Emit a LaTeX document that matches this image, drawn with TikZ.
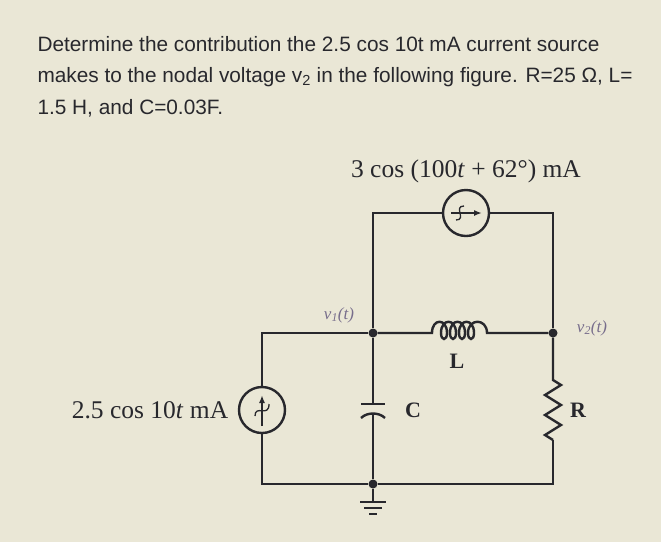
\documentclass[tikz,border=0pt]{standalone}
\usepackage{fontspec}
\newfontfamily\sans{Liberation Sans}
\setmainfont{Liberation Serif}
\usetikzlibrary{arrows.meta}
\definecolor{bg}{RGB}{234,231,214}
\definecolor{ink}{RGB}{40,40,45}
\definecolor{lab}{RGB}{120,110,140}
\begin{document}
\begin{tikzpicture}[x=1pt,y=-1pt,
  wire/.style={draw=ink,line width=2.4pt},
  src/.style={circle,draw=ink,line width=2.4pt,minimum size=46pt,inner sep=0pt,fill=bg},
  dotn/.style={circle,fill=ink,inner sep=0pt,minimum size=9pt},
  cl/.style={font=\fontsize{25.5}{25.5}\selectfont,text=ink},
  vl/.style={font=\fontsize{17}{17}\selectfont\itshape,text=lab},
  el/.style={font=\bfseries\fontsize{22}{22}\selectfont,text=ink}]
\fill[bg] (0,0) rectangle (661,542);
\useasboundingbox (0,0) rectangle (661,542);
\node[anchor=west,font=\sans\fontsize{20.8}{20.8}\selectfont,text=ink] (t1) at (34,44) {Determine the contribution the 2.5 cos 10t mA current source};
\node[anchor=west,font=\sans\fontsize{20.8}{20.8}\selectfont,text=ink] (t2) at (34,77) {makes to the nodal voltage v\textsubscript{2} in the following figure. R=25 Ω, L=};
\node[anchor=west,font=\sans\fontsize{20.8}{20.8}\selectfont,text=ink] (t3) at (34,108) {1.5 H, and C=0.03F.};
% coordinates
\coordinate (tl) at (373,213);
\coordinate (tr) at (553,213);
\node[dotn] (n1) at (373,333) {};
\node[dotn] (n2) at (553,333) {};
\coordinate (ml) at (262,333);
\coordinate (bl) at (262,484);
\node[dotn] (g) at (373,484) {};
\coordinate (br) at (553,484);
\node[src] (s2) at (466,213) {};
\node[src] (s1) at (262,410) {};
% wires
\draw[wire] (s2.west) -- (tl) -- (n1);
\draw[wire] (s2.east) -- (tr) -- (n2);
\draw[wire] (s1.north) -- (ml) -- (n1);
\draw[wire] (s1.south) -- (bl) -- (g) -- (br) -- (553,440);
% inductor
\draw[wire] (n1) -- (432,333)
  .. controls (432,318) and (447,318) .. (447,333) .. controls (447,341) and (441,341) .. (441,333)
  .. controls (441,318) and (456,318) .. (456,333) .. controls (456,341) and (450,341) .. (450,333)
  .. controls (450,318) and (465,318) .. (465,333) .. controls (465,341) and (459,341) .. (459,333)
  .. controls (459,318) and (474,318) .. (474,333) .. controls (474,341) and (468,341) .. (468,333)
  .. controls (468,318) and (487,318) .. (487,333) -- (n2);
% resistor
\draw[wire] (n2) -- (553,380) -- (561,385) -- (545,395) -- (561,405) -- (545,415) -- (561,425) -- (545,435) -- (553,440);
% capacitor
\draw[wire] (n1) -- (373,404);
\draw[wire] (361,404) -- (385,404);
\draw[wire] (361,418) .. controls (367,412) and (379,412) .. (385,418);
\draw[wire] (373,413) -- (g);
% ground
\draw[wire] (g) -- (373,502);
\draw[wire] (360,502) -- (386,502);
\draw[wire] (364,508) -- (382,508);
\draw[wire] (369,514) -- (377,514);
% source symbols
\draw[ink,line width=1.6pt,-{Latex[length=8pt]}] (262,426) -- (262,395);
\draw[ink,line width=1.3pt] (255,416) .. controls (255,404) and (269,418) .. (269,404);
\draw[ink,line width=1.6pt,-{Latex[length=8pt]}] (451,213) -- (482,213);
\draw[ink,line width=1.3pt] (464,206) .. controls (453,206) and (467,220) .. (456,220);
% labels
\node[cl] (lsrc2) at (466,171) {3 cos (100\textit{t} + 62°) mA};
\node[cl] (lsrc1) at (150,410) {2.5 cos 10\textit{t} mA};
\node[vl] (lv1) at (339,315) {v\textsubscript{1}(\textit{t})};
\node[vl] (lv2) at (592,328) {v\textsubscript{2}(\textit{t})};
\node[el] (lL) at (457,361) {L};
\node[el] (lC) at (413,410) {C};
\node[el] (lR) at (578,410) {R};
\end{tikzpicture}
\end{document}
